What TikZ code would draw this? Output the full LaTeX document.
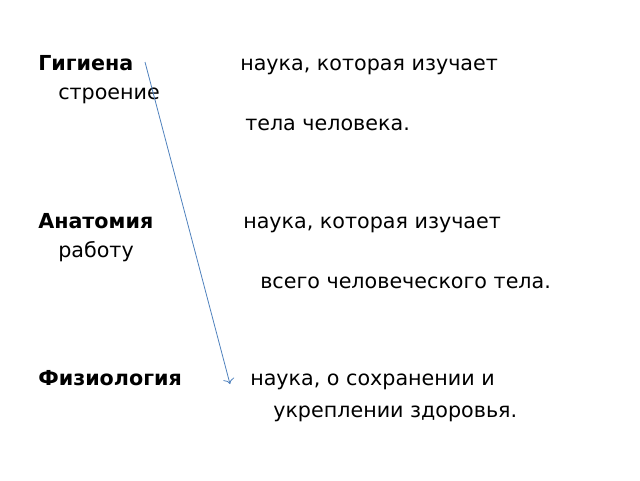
\documentclass[tikz,border=0pt]{standalone}
\usepackage{fontspec}
\setmainfont{DejaVu Sans}
\usetikzlibrary{arrows.meta}
\begin{document}
\begin{tikzpicture}[x=0.75pt,y=-0.75pt,
  t/.style={anchor=base west,inner sep=0pt,font=\fontsize{15.5pt}{18pt}\selectfont},
  b/.style={t,font=\fontsize{15.5pt}{18pt}\selectfont\bfseries}]
\useasboundingbox (0,0) rectangle (640,480);
\node[b] (g) at (38,70) {Гигиена};
\node[t] (g1) at (240,70) {наука, которая изучает};
\node[t] (g2) at (58,99) {строение};
\node[t] (g3) at (245,130) {тела человека.};
\node[b] (a) at (38,228) {Анатомия};
\node[t] (a1) at (243,228) {наука, которая изучает};
\node[t] (a2) at (58,257) {работу};
\node[t] (a3) at (260,288) {всего человеческого тела.};
\node[b] (f) at (38,385) {Физиология};
\node[t] (f1) at (250,385) {наука, о сохранении и};
\node[t] (f2) at (273,417) {укреплении здоровья.};
\coordinate (s) at (145,62);
\coordinate (e) at (230,384);
\draw[color={rgb,255:red,79;green,129;blue,189},line width=0.6pt,-{To[length=4pt]}] (s) -- (e);
\end{tikzpicture}
\end{document}
